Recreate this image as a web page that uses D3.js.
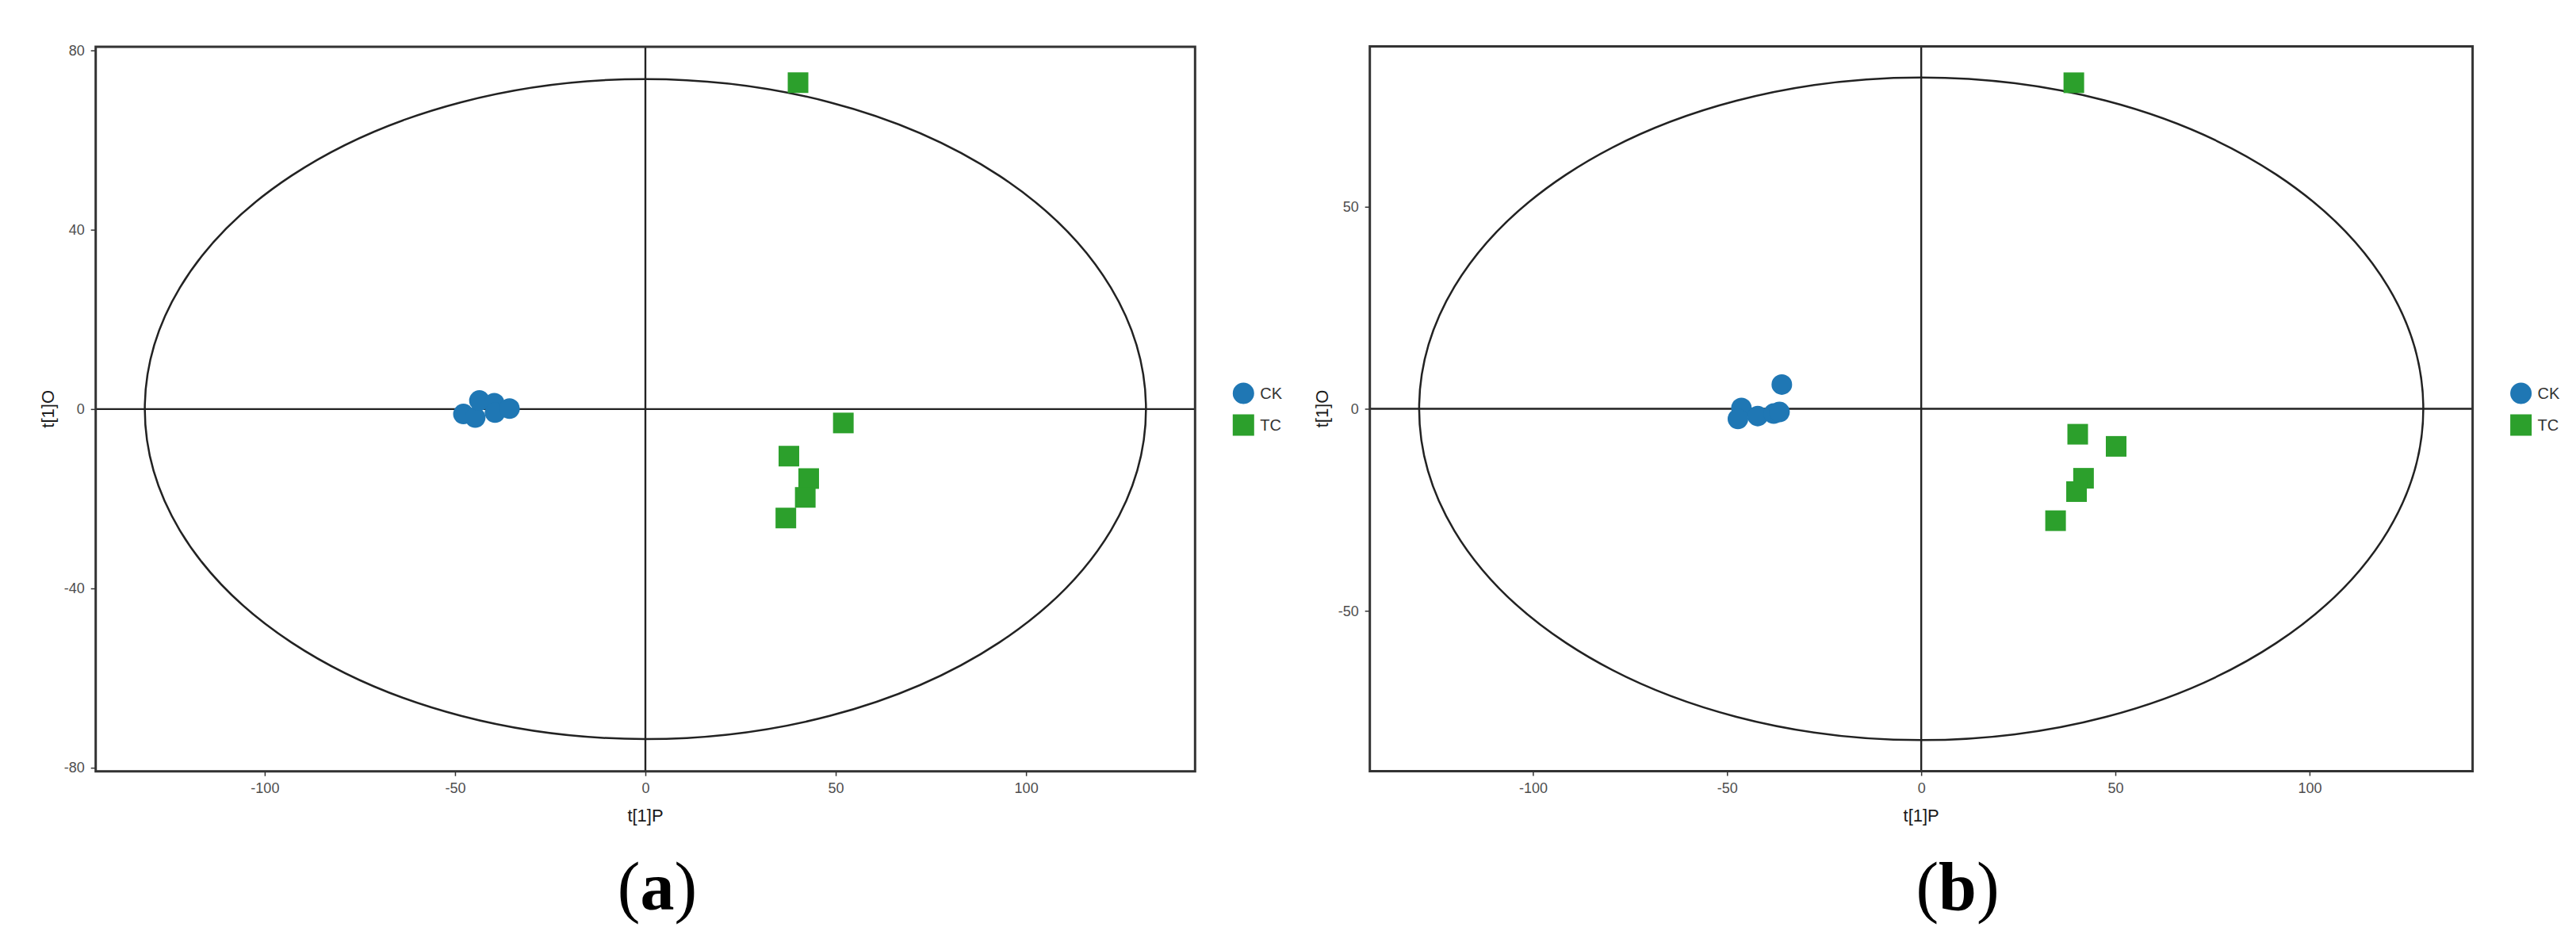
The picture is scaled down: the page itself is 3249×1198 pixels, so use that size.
<!DOCTYPE html>
<meta charset="utf-8">
<html>
<head>
<style>
  body { margin: 0; background: #fff; }
  .tick text { font-family: "Liberation Sans", Arial, sans-serif; font-size: 18px; fill: #4d4d4d; }
  .tick line { stroke: #333; stroke-width: 1.5; }
</style>
</head>
<body>
<div id="chart"></div>
<script src="https://d3js.org/d3.v7.min.js"></script>
<script>

  // groups and colours
  var groups = ["CK", "TC"];
  var colors = ["#1f77b4", "#2ca02c"];

  // panel (a) scores: [t[1]P, t[1]O]
  var ckA = [[-47.8, -1.1], [-44.7, -1.9], [-43.6, 1.9], [-39.7, 1.3], [-39.5, -0.8], [-35.7, 0.1]];
  var tcA = [[40.1, 72.8], [52.0, -3.1], [37.7, -10.5], [42.9, -15.5], [42.0, -19.7], [36.9, -24.3]];

  // panel (b) scores
  var ckB = [[-35.9, 6.0], [-46.3, 0.2], [-47.2, -2.5], [-42.1, -1.8], [-38.0, -1.2], [-36.5, -0.8]];
  var tcB = [[39.3, 80.7], [40.3, -6.3], [50.2, -9.3], [41.8, -17.2], [40.0, -20.5], [34.6, -27.7]];

  // Hotelling ellipse half-axes [x, y]
  var ellipseA = [131.5, 73.6];
  var ellipseB = [129.3, 82.0];

  // axis ticks
  var xTicks = [-100, -50, 0, 50, 100];
  var yTicksA = [-80, -40, 0, 40, 80];
  var yTicksB = [-50, 0, 50];

  var panels = [
    { label: "a", ck: ckA, tc: tcA, ell: ellipseA, xDom: [-144.4, 144.4], yDom: [-80.8, 80.8], yTicks: yTicksA,
      left: 120.7, right: 1507.3, top: 59, bottom: 972.7, labelX: 829 },
    { label: "b", ck: ckB, tc: tcB, ell: ellipseB, xDom: [-142, 142], yDom: [-89.7, 89.7], yTicks: yTicksB,
      left: 1727.7, right: 3118.6, top: 58.5, bottom: 972.5, labelX: 2469 }
  ];

  // plain hyphen for negatives, like the original
  var fmt = function(d) { return String(d); };

  var svg = d3.select("#chart").append("svg")
      .attr("width", 3249)
      .attr("height", 1198);

  panels.forEach(function(p) {
    var g = svg.append("g");

    var x = d3.scaleLinear().domain(p.xDom).range([p.left, p.right]);
    var y = d3.scaleLinear().domain(p.yDom).range([p.bottom, p.top]);

    // axes
    g.append("g")
      .attr("transform", "translate(0," + p.bottom + ")")
      .call(d3.axisBottom(x).tickValues(xTicks).tickFormat(fmt).tickSize(6).tickPadding(9).tickSizeOuter(0))
      .call(function(a) { a.select(".domain").remove(); });

    g.append("g")
      .attr("transform", "translate(" + p.left + ",0)")
      .call(d3.axisLeft(y).tickValues(p.yTicks).tickFormat(fmt).tickSize(6).tickPadding(8).tickSizeOuter(0))
      .call(function(a) { a.select(".domain").remove(); });

    // zero lines
    g.append("line")
      .attr("x1", p.left).attr("x2", p.right)
      .attr("y1", y(0)).attr("y2", y(0))
      .attr("stroke", "#222").attr("stroke-width", 2.4);
    g.append("line")
      .attr("x1", x(0)).attr("x2", x(0))
      .attr("y1", p.top).attr("y2", p.bottom)
      .attr("stroke", "#222").attr("stroke-width", 2.4);

    // ellipse
    g.append("ellipse")
      .attr("cx", x(0)).attr("cy", y(0))
      .attr("rx", x(p.ell[0]) - x(0))
      .attr("ry", y(0) - y(p.ell[1]))
      .attr("fill", "none")
      .attr("stroke", "#222")
      .attr("stroke-width", 2.5);

    // points
    g.append("g").selectAll("circle")
      .data(p.ck).enter().append("circle")
        .attr("cx", function(d) { return x(d[0]); })
        .attr("cy", function(d) { return y(d[1]); })
        .attr("r", 13)
        .attr("fill", colors[0]);

    g.append("g").selectAll("rect")
      .data(p.tc).enter().append("rect")
        .attr("x", function(d) { return x(d[0]) - 13; })
        .attr("y", function(d) { return y(d[1]) - 13; })
        .attr("width", 26).attr("height", 26)
        .attr("fill", colors[1]);

    // panel border
    g.append("rect")
      .attr("x", p.left).attr("y", p.top)
      .attr("width", p.right - p.left).attr("height", p.bottom - p.top)
      .attr("fill", "none")
      .attr("stroke", "#333")
      .attr("stroke-width", 3);

    // axis titles
    g.append("text")
      .attr("x", x(0)).attr("y", p.bottom + 63)
      .attr("text-anchor", "middle")
      .style("font-family", "Liberation Sans, Arial, sans-serif")
      .style("font-size", "22px")
      .attr("fill", "#1a1a1a")
      .text("t[1]P");

    g.append("text")
      .attr("transform", "translate(" + (p.left - 53) + "," + y(0) + ") rotate(-90)")
      .attr("text-anchor", "middle")
      .style("font-family", "Liberation Sans, Arial, sans-serif")
      .style("font-size", "22px")
      .attr("fill", "#1a1a1a")
      .text("t[1]O");

    // legend
    var lg = g.append("g").attr("transform", "translate(" + (p.right + 61) + ",0)");
    lg.append("circle").attr("cx", 0).attr("cy", 496).attr("r", 13.5).attr("fill", colors[0]);
    lg.append("rect").attr("x", -13.5).attr("y", 522.5).attr("width", 27).attr("height", 27).attr("fill", colors[1]);
    lg.selectAll("text")
      .data(groups).enter().append("text")
        .attr("x", 21)
        .attr("y", function(d, i) { return i == 0 ? 496 : 536; })
        .attr("dy", "0.35em")
        .style("font-family", "Liberation Sans, Arial, sans-serif")
        .style("font-size", "20px")
        .attr("fill", "#333")
        .text(function(d) { return d; });

    // panel label
    var t = svg.append("text")
      .attr("x", p.labelX).attr("y", 1147)
      .attr("text-anchor", "middle")
      .style("font-family", "Liberation Serif, Times New Roman, serif")
      .style("font-size", "86px")
      .attr("fill", "#000");
    t.append("tspan").text("(");
    t.append("tspan").style("font-weight", "bold").text(p.label);
    t.append("tspan").text(")");
  });

</script>
</body>
</html>
